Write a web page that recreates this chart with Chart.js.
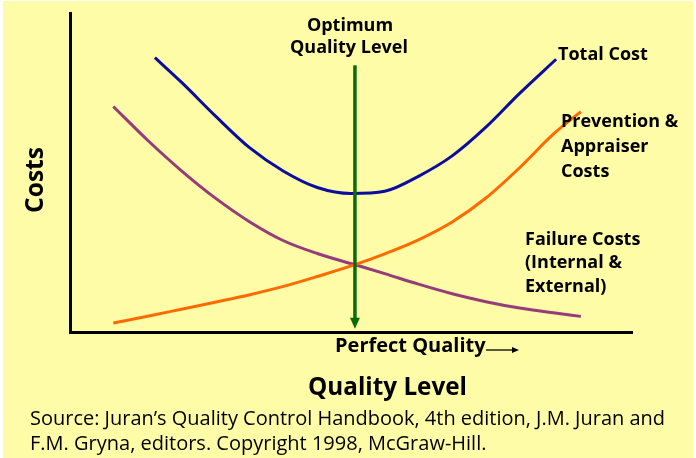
<!DOCTYPE html>
<html>
<head>
<meta charset="utf-8">
<script src="https://cdn.jsdelivr.net/npm/chart.js@4"></script>
<style>
  html, body { margin: 0; padding: 0; background: #fff; }
  #wrap { width: 696px; height: 458px; position: relative; }
</style>
</head>
<body>
<div id="wrap"><canvas id="costChart" width="696" height="458"></canvas></div>
<script>
// Qualidade (0-100) e custos (0-100)
const totalQuality = [15.1, 20, 26, 32, 38, 44, 50, 56, 62, 68, 74, 80, 86.5];
const totalCost    = [86.0, 78.0, 67.5, 57.7, 50.4, 45.3, 43.4, 44.1, 48.8, 55.2, 64.2, 74.8, 85.5];

const curveQuality   = [7.7, 14, 20, 26, 32, 38, 44, 50.7, 56, 62, 68, 74, 80, 86, 90.9];
const failureCost    = [70.7, 59.8, 50.3, 41.8, 34.5, 28.6, 24.6, 21.1, 18.3, 15.0, 12.0, 9.5, 7.5, 6.0, 4.9];
const preventionCost = [2.8, 5.0, 7.2, 9.4, 11.7, 14.3, 17.4, 21.1, 24.5, 28.9, 34.5, 42.0, 51.5, 62.0, 69.1];

const optimumLevel = 50.7;
const arrowTop = 83.6;
const arrowTip = 1.0;

function toPoints(xs, ys) {
    return xs.map((x, i) => ({ x: x, y: ys[i] }));
}

// Fundo amarelo
const background = {
    id: 'background',
    beforeDraw(chart) {
        const ctx = chart.ctx;
        ctx.save();
        ctx.fillStyle = '#ffffff';
        ctx.fillRect(0, 0, chart.width, chart.height);
        ctx.fillStyle = '#fffca8';
        ctx.fillRect(3, 1, 690, 457);
        ctx.restore();
    }
};

function label(ctx, text, x, y, size, bold, maxW, align) {
    ctx.font = (bold ? 'bold ' : '') + size + 'px "Open Sans", Lato, sans-serif';
    ctx.textAlign = align || 'left';
    ctx.textBaseline = 'alphabetic';
    if (maxW && ctx.measureText(text).width > maxW) {
        ctx.fillText(text, x, y, maxW);
    } else {
        ctx.fillText(text, x, y);
    }
}

// Seta verde, textos e títulos
const annotations = {
    id: 'annotations',
    afterDatasetsDraw(chart) {
        const ctx = chart.ctx;
        const xs = chart.scales.x;
        const ys = chart.scales.y;
        const ax = xs.getPixelForValue(optimumLevel);
        const top = ys.getPixelForValue(arrowTop);
        const tip = ys.getPixelForValue(arrowTip);

        ctx.save();
        ctx.strokeStyle = '#0b6b0b';
        ctx.fillStyle = '#0b6b0b';
        ctx.lineWidth = 3.5;
        ctx.beginPath();
        ctx.moveTo(ax, top);
        ctx.lineTo(ax, tip - 8);
        ctx.stroke();
        ctx.beginPath();
        ctx.moveTo(ax - 5, tip - 11);
        ctx.lineTo(ax + 5, tip - 11);
        ctx.lineTo(ax, tip);
        ctx.closePath();
        ctx.fill();

        ctx.fillStyle = '#000';
        label(ctx, 'Optimum', 350, 31, 18, true, 89, 'center');
        label(ctx, 'Quality Level', 349, 53, 18, true, 118, 'center');
        label(ctx, 'Total Cost', 558, 60, 18, true, 90);
        label(ctx, 'Prevention &', 561, 127, 18, true, 122);
        label(ctx, 'Appraiser', 561, 152, 18, true, 92);
        label(ctx, 'Costs', 561, 177, 18, true, 52);
        label(ctx, 'Failure Costs', 525, 245, 18, true, 117);
        label(ctx, '(Internal &', 525, 268, 18, true, 100);
        label(ctx, 'External)', 525, 292, 18, true, 84);
        label(ctx, 'Perfect Quality', 335, 352, 20, true, 153);

        // seta fina depois de "Perfect Quality"
        ctx.strokeStyle = '#000';
        ctx.lineWidth = 1.3;
        ctx.beginPath();
        ctx.moveTo(486, 350);
        ctx.lineTo(514, 350);
        ctx.stroke();
        ctx.beginPath();
        ctx.moveTo(519, 350);
        ctx.lineTo(512, 347);
        ctx.lineTo(512, 353);
        ctx.closePath();
        ctx.fill();

        label(ctx, 'Quality Level', 308, 395, 25, true, 159);

        ctx.save();
        ctx.translate(43, 180);
        ctx.rotate(-Math.PI / 2);
        label(ctx, 'Costs', 0, 0, 25, true, 66, 'center');
        ctx.restore();

        label(ctx, 'Source: Juran\u2019s Quality Control Handbook, 4th edition, J.M. Juran and', 30, 425, 20, false, 635);
        label(ctx, 'F.M. Gryna, editors. Copyright 1998, McGraw-Hill.', 30, 450, 20, false, 458);
        ctx.restore();
    }
};

const ctx = document.getElementById('costChart').getContext('2d');

const costChart = new Chart(ctx, {
    type: 'line',
    data: {
        datasets: [
            {
                label: 'Prevention & Appraiser Costs',
                data: toPoints(curveQuality, preventionCost),
                borderColor: '#ff6a00',
                borderWidth: 3,
            },
            {
                label: 'Failure Costs',
                data: toPoints(curveQuality, failureCost),
                borderColor: '#963c7a',
                borderWidth: 3,
            },
            {
                label: 'Total Cost',
                data: toPoints(totalQuality, totalCost),
                borderColor: '#0c0c9e',
                borderWidth: 3,
            }
        ]
    },
    options: {
        responsive: false,
        animation: false,
        elements: { point: { radius: 0 }, line: { cubicInterpolationMode: 'monotone' } },
        layout: { padding: { left: 62, right: 64, top: 13, bottom: 118 } },
        plugins: { legend: { display: false }, tooltip: { enabled: false } },
        scales: {
            x: {
                type: 'linear', min: 0, max: 100,
                grid: { display: false },
                ticks: { display: false },
                border: { color: '#000', width: 3 }
            },
            y: {
                min: 0, max: 100,
                grid: { display: false },
                ticks: { display: false },
                border: { color: '#000', width: 3 }
            }
        }
    },
    plugins: [background, annotations]
});
</script>
</body>
</html>
